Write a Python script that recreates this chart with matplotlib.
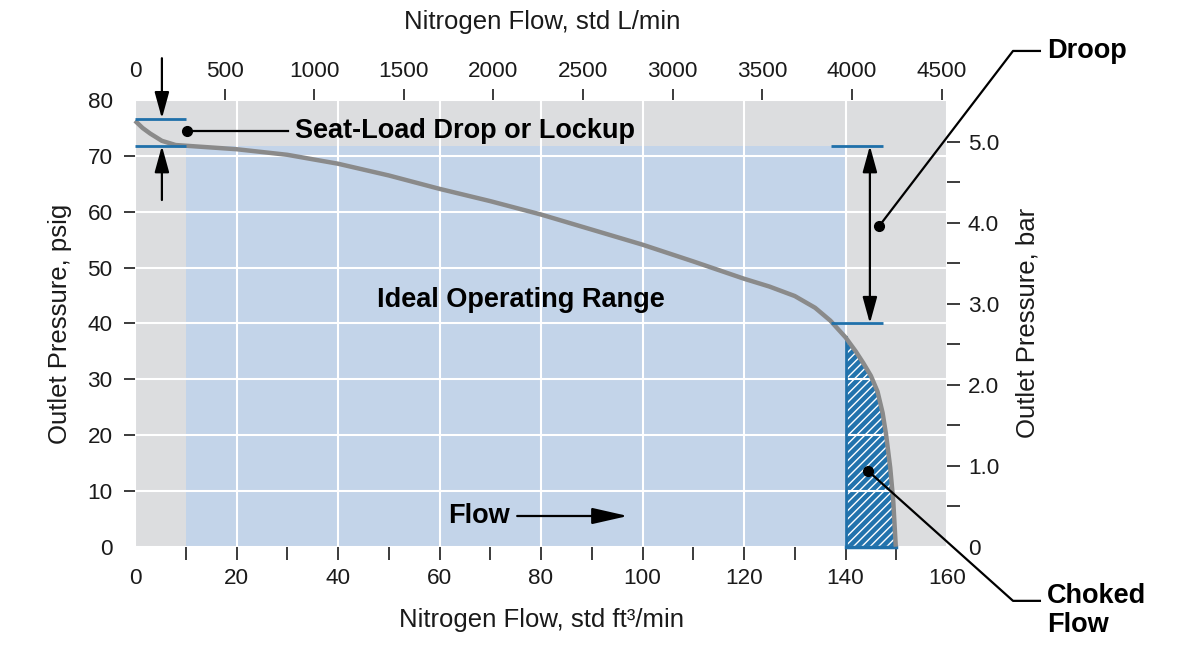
import numpy as np
import matplotlib
matplotlib.use("Agg")
import matplotlib.pyplot as plt
from matplotlib.ticker import FixedLocator, FuncFormatter

# ---------------- data ----------------
flow_scfm = [0, 1.5, 3, 5.3, 8, 12, 20, 30, 40, 50, 60, 70, 80, 90, 100, 110, 120,
             125, 130, 134, 137, 140, 142, 143.5, 145, 146.3, 147.3, 148, 148.8, 149.4, 149.9]
pressure_psig = [76.3, 75.0, 74.0, 72.7, 71.95, 71.7, 71.2, 70.2, 68.6, 66.5, 64.1, 61.9, 59.5,
                 56.8, 54.1, 51.1, 48.0, 46.6, 44.9, 42.8, 40.5, 37.5, 35.0, 32.9, 30.6,
                 27.8, 24.0, 20.0, 14.2, 8.2, 0.0]

ideal_range_flow = [10, 140]
ideal_range_top_psig = 71.8
lockup_psig = [76.7, 71.8]
droop_psig = [71.8, 40.0]
choked_start_flow = 140

x_ticks = [0, 20, 40, 60, 80, 100, 120, 140, 160]
x_minor_ticks = [10, 20, 30, 40, 50, 60, 70, 80, 90, 100, 110, 120, 130, 140, 150]
y_ticks = [0, 10, 20, 30, 40, 50, 60, 70, 80]
y_minor_ticks = [10, 20, 30, 40, 50, 60, 70]
top_ticks = [0, 500, 1000, 1500, 2000, 2500, 3000, 3500, 4000, 4500]
bar_ticks = [0, 1, 2, 3, 4, 5]
bar_minor_ticks = [0.5, 1.0, 1.5, 2.0, 2.5, 3.0, 3.5, 4.0, 4.5, 5.0]

LPM_PER_SCFM = 28.3168
PSI_PER_BAR = 14.5038

# ---------------- style ----------------
GRAY_BG = "#dcdddf"
BLUE_FILL = "#c3d4e9"
BLUE_LINE = "#1f70aa"
HATCH_FACE = "#2273ad"
CURVE = "#8a8a8a"
TXT = "#1a1a1a"
FS = 16.2
FSL = 18.5
FSB = 19.5

plt.rcParams["font.family"] = ["Liberation Sans", "DejaVu Sans"]
plt.rcParams["hatch.linewidth"] = 1.0

fig = plt.figure(figsize=(12, 6.52), dpi=100)
ax = fig.add_axes([0.1125, 0.1615, 0.6767, 0.6850])
ax.set_xlim(0, 160)
ax.set_ylim(0, 80)
ax.set_facecolor(GRAY_BG)
for s in ax.spines.values():
    s.set_visible(False)

# ideal operating range
ax.fill_between(ideal_range_flow, 0, ideal_range_top_psig, color=BLUE_FILL, lw=0, zorder=1)

# choked flow hatch
fx = np.array(flow_scfm)
py = np.array(pressure_psig)
m = fx >= choked_start_flow
ax.fill_between(fx[m], 0, py[m], facecolor=HATCH_FACE, edgecolor="white",
                hatch="////", lw=0, zorder=1.5)
ax.plot([choked_start_flow, choked_start_flow], [0, py[m][0]], color=BLUE_LINE, lw=2, zorder=3)
ax.plot([choked_start_flow, fx[-1]], [0, 0], color=BLUE_LINE, lw=2.5, zorder=3, clip_on=False)

# grid
ax.set_axisbelow(False)
ax.grid(True, which="major", color="white", lw=1.5)

# curve
ax.plot(flow_scfm, pressure_psig, color=CURVE, lw=3.2, zorder=4, solid_capstyle="butt",
        solid_joinstyle="round", clip_on=False)

# ticks - bottom / left
ax.xaxis.set_major_locator(FixedLocator(x_ticks))
ax.xaxis.set_minor_locator(FixedLocator(x_minor_ticks))
ax.xaxis.remove_overlapping_locs = False
ax.yaxis.set_major_locator(FixedLocator(y_ticks))
ax.yaxis.set_minor_locator(FixedLocator(y_minor_ticks))
ax.yaxis.remove_overlapping_locs = False
ax.tick_params(axis="x", which="major", length=0, pad=15, labelsize=FS, labelcolor=TXT)
ax.tick_params(axis="x", which="minor", length=9, width=1.2, color=TXT)
ax.tick_params(axis="y", which="major", length=0, pad=16, labelsize=FS, labelcolor=TXT)
ax.tick_params(axis="y", which="minor", length=8, width=1.2, color=TXT)
ax.grid(False, which="minor")

# top axis (L/min)
secx = ax.secondary_xaxis("top", functions=(lambda x: x * LPM_PER_SCFM,
                                             lambda x: x / LPM_PER_SCFM))
secx.xaxis.set_major_locator(FixedLocator(top_ticks))
secx.xaxis.set_minor_locator(FixedLocator(top_ticks[1:]))
secx.xaxis.remove_overlapping_locs = False
secx.tick_params(which="major", length=0, pad=13, labelsize=FS, labelcolor=TXT)
secx.tick_params(which="minor", length=8, width=1.2, color=TXT)
for s in secx.spines.values():
    s.set_visible(False)

# right axis (bar)
secy = ax.secondary_yaxis("right", functions=(lambda p: p / PSI_PER_BAR,
                                               lambda b: b * PSI_PER_BAR))
secy.yaxis.set_major_locator(FixedLocator(bar_ticks))
secy.yaxis.set_minor_locator(FixedLocator(bar_minor_ticks))
secy.yaxis.remove_overlapping_locs = False
secy.yaxis.set_major_formatter(FuncFormatter(lambda v, p: "0" if v == 0 else f"{v:.1f}"))
secy.tick_params(which="major", length=0, pad=15, labelsize=FS, labelcolor=TXT)
secy.tick_params(which="minor", length=9, width=1.2, color=TXT)
for s in secy.spines.values():
    s.set_visible(False)

# axis labels
ax.set_xlabel("Nitrogen Flow, std ft\u00b3/min", fontsize=FSL, color=TXT, va="center")
ax.xaxis.set_label_coords(0.5, -0.163)
ax.set_ylabel("Outlet Pressure, psig", fontsize=FSL, color=TXT, va="center")
ax.yaxis.set_label_coords(-0.0924, 0.5)
fig.text(542 / 1200, 1 - 22 / 652, "Nitrogen Flow, std L/min", fontsize=FSL, color=TXT,
         ha="center", va="center")
fig.text(1027 / 1200, 1 - 323 / 652, "Outlet Pressure, bar", fontsize=FSL, color=TXT,
         ha="center", va="center", rotation=90)

# blue reference lines
ax.hlines(lockup_psig, 0, ideal_range_flow[0], color=BLUE_LINE, lw=2, zorder=5, clip_on=False)
ax.hlines(droop_psig, 137.1, 147.4, color=BLUE_LINE, lw=2, zorder=5, clip_on=False)

arrow = dict(arrowstyle="-|>,head_length=0.8,head_width=0.22", color="black", lw=1.6,
             shrinkA=0, shrinkB=0, mutation_scale=20)
# lockup arrows
ax.annotate("", xy=(5.3, lockup_psig[0]), xytext=(5.3, 87.5), arrowprops=arrow,
            annotation_clip=False, zorder=6)
ax.annotate("", xy=(5.3, lockup_psig[1]), xytext=(5.3, 62.1), arrowprops=arrow,
            annotation_clip=False, zorder=6)
# droop double arrow
ax.annotate("", xy=(144.8, droop_psig[0]), xytext=(144.8, droop_psig[1]),
            arrowprops=dict(arrow, arrowstyle="<|-|>,head_length=0.8,head_width=0.22"),
            zorder=6)

# seat-load label
ax.plot([10.2, 30.1], [74.4, 74.4], color="black", lw=1.6, zorder=6)
ax.plot([10.2], [74.4], "o", color="black", ms=7, zorder=6)
ax.text(31.5, 74.5, "Seat-Load Drop or Lockup", fontsize=FSB, weight="bold",
        ha="left", va="center", color="black", zorder=6)

# ideal range
ax.text(76.1, 44.2, "Ideal Operating Range", fontsize=FSB, weight="bold",
        ha="center", va="center", color="black", zorder=6)

# flow arrow
ax.text(73.9, 5.5, "Flow", fontsize=FSB, weight="bold", ha="right", va="center",
        color="black", zorder=6)
ax.annotate("", xy=(97.1, 5.5), xytext=(75.3, 5.5),
            arrowprops=dict(arrowstyle="-|>,head_length=1.1,head_width=0.25", color="black",
                            lw=1.6, shrinkA=0, shrinkB=0, mutation_scale=20), zorder=6)

# droop leader
ax.plot([146.6, 173.0, 178.3], [57.4, 88.8, 88.8], color="black", lw=1.6, zorder=6,
        clip_on=False)
ax.plot([146.6], [57.4], "o", color="black", ms=7, zorder=6)
ax.text(179.7, 88.8, "Droop", fontsize=FSB, weight="bold", ha="left", va="center",
        color="black", clip_on=False)

# choked flow leader
ax.plot([144.4, 173.0, 178.3], [13.6, -9.7, -9.7], color="black", lw=1.6, zorder=6,
        clip_on=False)
ax.plot([144.4], [13.6], "o", color="black", ms=7, zorder=6)
ax.text(179.7, -8.8, "Choked", fontsize=FSB, weight="bold", ha="left", va="center",
        color="black", clip_on=False)
ax.text(179.7, -14.0, "Flow", fontsize=FSB, weight="bold", ha="left", va="center",
        color="black", clip_on=False)

fig.savefig("out.png", dpi=100, facecolor="white")
